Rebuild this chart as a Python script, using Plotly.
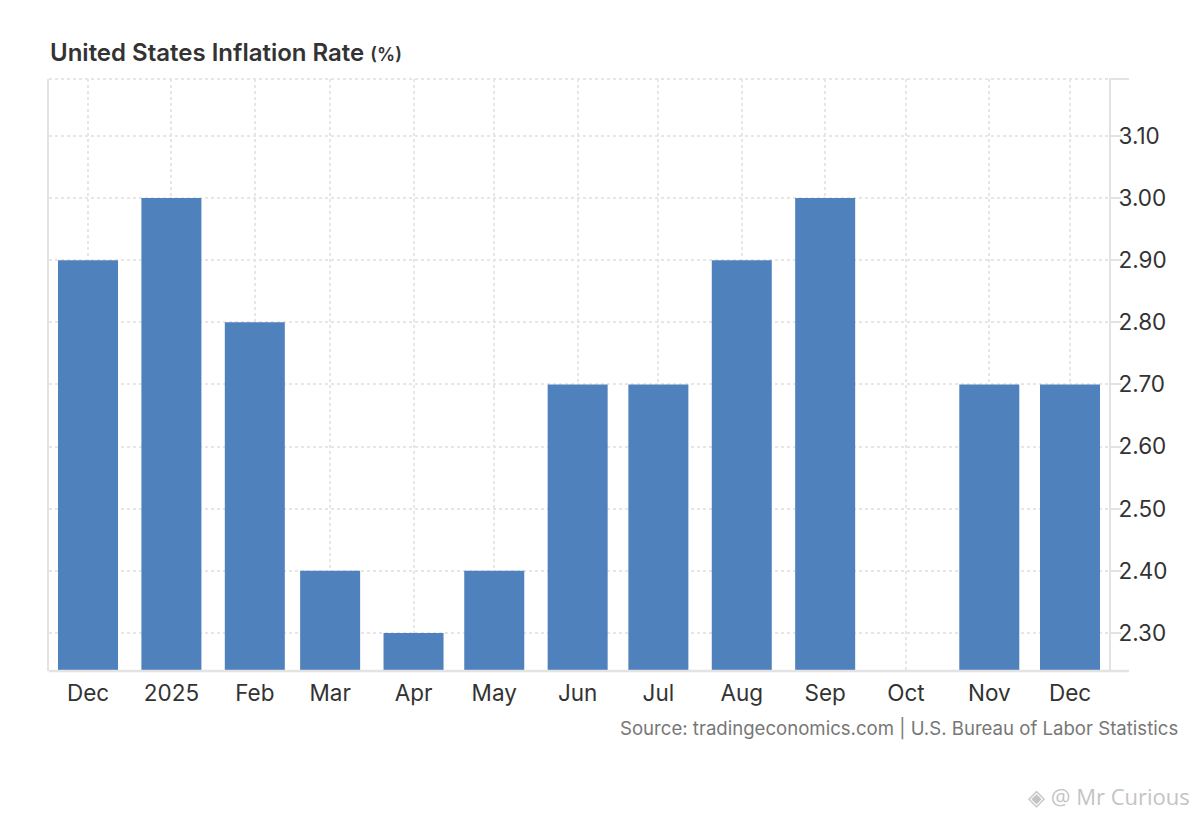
import plotly.graph_objects as go
from datetime import datetime, timedelta

# ---- data ----
months = ["2024-12-01", "2025-01-01", "2025-02-01", "2025-03-01", "2025-04-01",
          "2025-05-01", "2025-06-01", "2025-07-01", "2025-08-01", "2025-09-01",
          "2025-10-01", "2025-11-01", "2025-12-01"]
tick_labels = ["Dec", "2025", "Feb", "Mar", "Apr", "May", "Jun", "Jul", "Aug",
               "Sep", "Oct", "Nov", "Dec"]
inflation = [2.9, 3.0, 2.8, 2.4, 2.3, 2.4, 2.7, 2.7, 2.9, 3.0, None, 2.7, 2.7]
y_ticks = [2.30, 2.40, 2.50, 2.60, 2.70, 2.80, 2.90, 3.00, 3.10]

# ---- layout geometry (page body has an 8px margin) ----
W, H = 1192, 812
ML, MR, MT, MB = 41, 91, 71, 149
plot_w = W - ML - MR
plot_h = H - MT - MB
px_per_day = 982 / 365.0
first = datetime(2024, 12, 1)
x_start = first - timedelta(days=39 / px_per_day)
x_end = x_start + timedelta(days=plot_w / px_per_day)
bar_w_ms = 60 / px_per_day * 86400000

BLUE = "#4F81BD"
GRID = "#e6e6e6"
AXIS = "#e3e3e3"
TXT = "#333333"
FONT = "Inter"

fig = go.Figure()
fig.add_trace(go.Bar(
    x=months, y=inflation, width=bar_w_ms,
    marker=dict(color=BLUE, line=dict(width=0)),
    base=0, hoverinfo="x+y",
))

fig.update_layout(
    width=W, height=H,
    margin=dict(l=ML, r=MR, t=MT, b=MB, pad=0),
    paper_bgcolor="white", plot_bgcolor="white",
    showlegend=False,
    font=dict(family=FONT, color=TXT),
    xaxis=dict(
        type="date",
        range=[x_start, x_end],
        tickvals=months, ticktext=tick_labels,
        showgrid=True, gridcolor=GRID, griddash="dot", gridwidth=2,
        showline=False, zeroline=False,
        ticks="", tickfont=dict(size=22.5, color=TXT, family=FONT),
        ticklabelstandoff=6,
        layer="below traces",
    ),
    yaxis=dict(
        side="right",
        range=[2.2388, 3.1917],
        tickvals=y_ticks, ticktext=[f"{v:.2f}" for v in y_ticks],
        showgrid=True, gridcolor=GRID, griddash="dot", gridwidth=2,
        showline=True, linecolor=AXIS, linewidth=2, mirror=True,
        zeroline=False,
        ticks="outside", ticklen=10, tickcolor=AXIS, tickwidth=1.5,
        tickfont=dict(size=22.5, color=TXT, family=FONT),
        ticklabelstandoff=-7,
        layer="below traces",
    ),
)

ext = 20 / plot_w
fig.add_shape(type="line", xref="paper", yref="paper", x0=0, x1=1 + ext, y0=0, y1=0,
              line=dict(color=AXIS, width=2.5), layer="above")
fig.add_shape(type="line", xref="paper", yref="paper", x0=1, x1=1 + ext, y0=1, y1=1,
              line=dict(color=AXIS, width=2), layer="above")
fig.add_shape(type="line", xref="paper", yref="paper", x0=0, x1=1, y0=1, y1=1,
              line=dict(color=GRID, width=2, dash="dot"), layer="below")

fig.add_annotation(
    text="United States Inflation Rate <span style='font-size:18px'>(%)</span>",
    xref="paper", yref="paper", x=-1 / plot_w, y=1 + 27 / plot_h,
    xanchor="left", yanchor="middle", showarrow=False,
    font=dict(size=24, color=TXT, family=FONT, weight=600),
)
fig.add_annotation(
    text="Source: tradingeconomics.com | U.S. Bureau of Labor Statistics",
    xref="paper", yref="paper", x=1 + 71 / plot_w, y=-57 / plot_h,
    xanchor="right", yanchor="middle", showarrow=False,
    font=dict(size=18.6, color="#777777", family=FONT),
)
fig.add_annotation(
    text="◈ @ Mr Curious",
    xref="paper", yref="paper", x=1 + 83 / plot_w, y=-125 / plot_h,
    xanchor="right", yanchor="middle", showarrow=False,
    font=dict(size=22, color="#c4c4c4", family="Open Sans"),
)

fig.write_html("out.html")
